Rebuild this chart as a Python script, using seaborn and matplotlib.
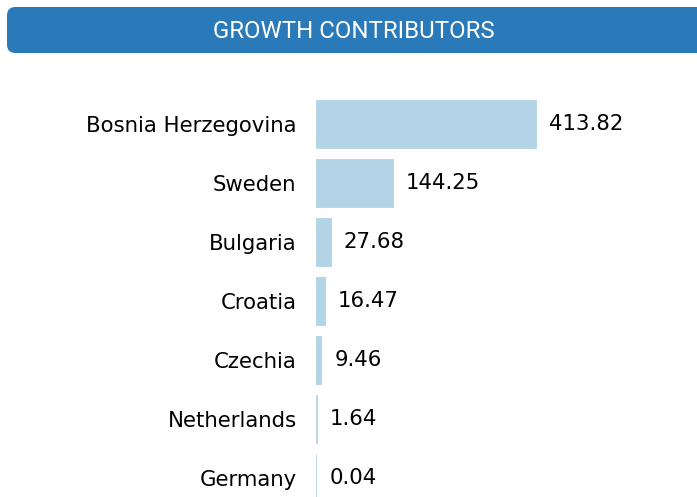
import matplotlib
matplotlib.use("Agg")
import matplotlib.pyplot as plt
from matplotlib.patches import FancyBboxPatch
import seaborn as sns
import pandas as pd

countries = ["Bosnia Herzegovina", "Sweden", "Bulgaria", "Croatia", "Czechia", "Netherlands", "Germany"]
values = [413.82, 144.25, 27.68, 16.47, 9.46, 1.64, 0.04]
title = "GROWTH CONTRIBUTORS"

BAR_COLOR = "#b3d4e6"
BANNER_COLOR = "#2a7ab9"

W, H = 697, 497
fig = plt.figure(figsize=(W / 100, H / 100), dpi=100)

# header banner
banner = FancyBboxPatch((7 / W, (H - 53) / H), (W + 20 - 7) / W, 46 / H,
                        boxstyle="round,pad=0,rounding_size=0.012",
                        transform=fig.transFigure, facecolor=BANNER_COLOR,
                        edgecolor="none", mutation_aspect=W / H)
fig.patches.append(banner)
fig.text(354 / W, (H - 31) / H, title, color="white", fontsize=17.3,
         family="Roboto", ha="center", va="center")

df = pd.DataFrame({"country": countries, "value": values})

ax_left, ax_right = 316, 697
ax_top, ax_bottom = 80, 497
ax = fig.add_axes([ax_left / W, (H - ax_bottom) / H, (ax_right - ax_left) / W, (ax_bottom - ax_top) / H])
sns.barplot(data=df, x="value", y="country", orient="h", color=BAR_COLOR,
            saturation=1, width=0.81, ax=ax, linewidth=0.6, edgecolor=BAR_COLOR)

px_per_unit = 219.5 / 413.82
ax.set_xlim(0, (ax_right - ax_left) / px_per_unit)
pitch, c0 = 59, 124
ax.set_ylim((ax_bottom - c0) / pitch, (ax_top - c0) / pitch)

# value labels to the right of each bar
for i, v in enumerate(values):
    ax.annotate(f"{v:.2f}", xy=(v, i), xytext=(9.5, 0), textcoords="offset points",
                ha="left", va="center", fontsize=15.3, color="black",
                family="DejaVu Sans", annotation_clip=False)

ax.set_xlabel("")
ax.set_ylabel("")
ax.set_xticks([])
ax.tick_params(axis="y", length=0, pad=14, labelsize=15.3)
for s in ax.spines.values():
    s.set_visible(False)
ax.patch.set_alpha(0)

fig.savefig("out.png", dpi=100)
